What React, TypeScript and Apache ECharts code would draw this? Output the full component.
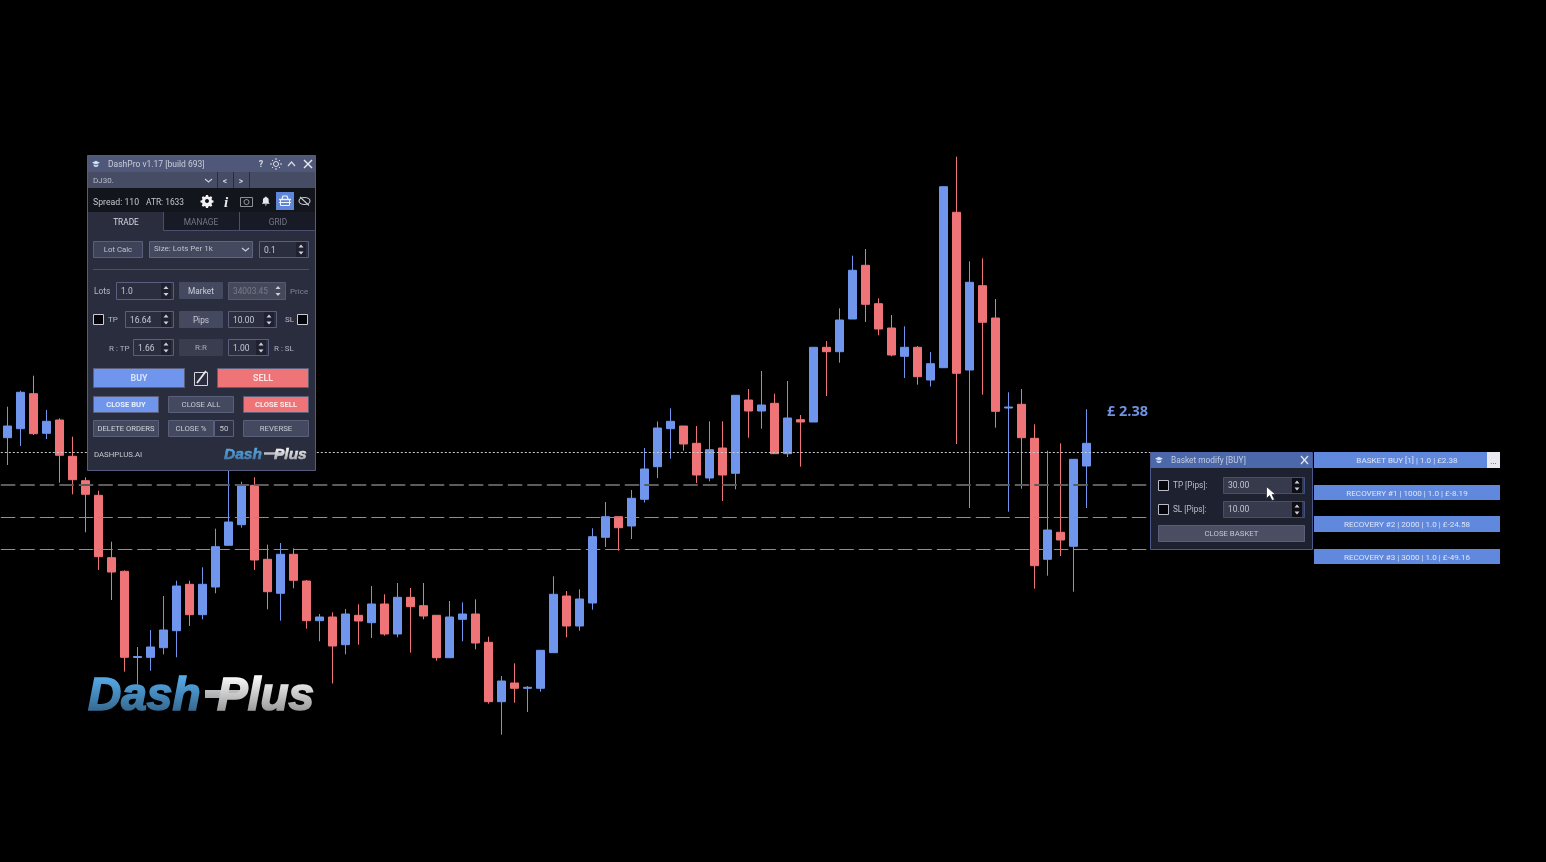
import React, { useEffect, useRef } from "react";
import * as echarts from "echarts";

const highs = [35359,35839,36289,35260,35011,34459,33241,32839,31309,30451,28150,28660,29680,30139,30139,30541,31699,33520,33109,33241,31219,31270,31111,30160,29140,29191,29290,29431,29980,29731,30070,29920,30070,29101,29530,29491,29581,28459,27280,27661,26980,28051,30271,29830,29881,31711,32500,32059,32860,34120,34915,35311,34780,34780,34921,34921,35701,35890,36430,35749,36130,35110,37141,37330,38311,39889,40090,38611,38110,37771,37180,37000,41959,42859,39721,39811,38590,35791,35890,34831,34039,34261,33781,35281];
const lows = [33610,34180,34510,34390,33079,32731,31591,30460,29560,27409,27010,27439,27931,27841,28780,28981,29761,31201,31729,30460,29281,28939,29911,28699,28321,27055,27931,28219,28420,28489,28441,27979,28981,27739,27829,28321,28081,26449,25519,26479,26200,26809,27979,28441,28639,29269,31150,31039,31390,32485,33220,33799,34039,33070,33121,32530,32881,34429,34699,33949,33850,33559,34900,35680,36679,37990,37900,37501,36871,36220,36019,35965,36529,34240,32320,35719,34729,32209,32899,29899,30289,30880,29809,32320];
const opens = [34429,34699,35749,34561,34960,33871,33139,32701,30829,30421,27835,27841,28129,28639,30031,29119,29950,31201,31819,33001,30781,29761,30931,30130,28939,29050,28219,29101,28879,29440,28540,29641,29389,29101,27829,28981,29140,28291,26509,27070,26911,26911,27979,29680,28780,29470,31441,32059,31780,32581,33559,34699,34780,34261,33220,34120,33361,35560,35230,35461,33949,34969,34900,37141,37009,37990,39601,38449,37720,36871,37141,36160,36529,41191,36460,38989,38020,35320,35431,34411,30781,31591,31171,33580];
const closes = [34780,35791,34549,34921,33901,33169,32731,30859,30400,27841,27865,28150,28660,29980,29119,30031,31159,31900,33001,30760,29809,30931,30151,28939,29050,28180,29140,28930,29440,28540,29641,29359,29080,27829,29050,29140,28270,26509,27130,26911,26941,28051,29731,28780,29590,31459,32059,31729,32611,33490,34720,34921,34240,33310,34069,33310,35701,35230,35410,33949,35020,34900,37141,37009,37960,39451,38431,37690,36910,37141,36259,36649,41959,36361,39091,37891,35221,35350,34429,30589,31660,31360,33781,34261];
const barNumbers = Array.from({ length: 93 }, (_, i) => String(i + 1));
const marketLevel = [33985];
const recoveryLevels = [33010, 32050, 31090];

const BLUE = "#6f96ec";
const RED = "#ee7478";
const SANS = "Roboto, 'Noto Sans', sans-serif";

echarts.graphic.registerShape("gearIcon", echarts.graphic.extendPath(
  "M10 0h4l.7 3 2.4 1 2.7-1.6 2.8 2.8-1.6 2.7 1 2.4 3 .7v4l-3 .7-1 2.4 1.6 2.7-2.8 2.8-2.7-1.6-2.4 1-.7 3h-4l-.7-3-2.4-1-2.7 1.6-2.8-2.8 1.6-2.7-1-2.4-3-.7v-4l3-.7 1-2.4-1.6-2.7 2.8-2.8 2.7 1.6 2.4-1zM12 8a4 4 0 1 0 .01 0z", {}));
echarts.graphic.registerShape("bellIcon", echarts.graphic.extendPath(
  "M12 0c1 0 2 1 2 2 4 1 6 4 6 8v6l3 4H1l3-4v-6c0-4 2-7 6-8 0-1 1-2 2-2zM9 22h6c0 2-1 3-3 3s-3-1-3-3z", {}));
echarts.graphic.registerShape("capIcon", echarts.graphic.extendPath(
  "M12 2l12 6-12 6L0 8zM5 13l7 3.5 7-3.5v5c-2 2-4.500 3-7 3s-5-1-7-3z", {}));

type El = Record<string, any>;
let order = 0;
const z = () => ({ z: 100, z2: order++ });

function box(x: number, y: number, w: number, h: number, fill: any, stroke?: string): El {
  return {
    type: "rect", ...z(), silent: true,
    shape: { x: stroke ? x + 0.5 : x, y: stroke ? y + 0.5 : y, width: stroke ? w - 1 : w, height: stroke ? h - 1 : h },
    style: stroke ? { fill, stroke, lineWidth: 1 } : { fill },
  };
}
function txt(text: string, x: number, y: number, size: number, fill: string, align = "left", weight: string | number = "normal", family = SANS): El {
  return {
    type: "text", ...z(), silent: true,
    style: { text, x, y, fill, fontSize: size, fontFamily: family, fontWeight: weight, align, verticalAlign: "middle" },
  };
}
function seg(x1: number, y1: number, x2: number, y2: number, stroke: string, lineWidth = 1): El {
  return { type: "line", ...z(), silent: true, shape: { x1, y1, x2, y2 }, style: { stroke, lineWidth } };
}
function poly(points: number[][], fill: string, closed = true, stroke?: string): El {
  return closed
    ? { type: "polygon", ...z(), silent: true, shape: { points }, style: { fill, stroke } }
    : { type: "polyline", ...z(), silent: true, shape: { points }, style: { fill: "none", stroke: stroke ?? fill, lineWidth: 1.2 } };
}
function shapeIcon(type: string, x: number, y: number, s: number, fill: string): El {
  return { type, ...z(), silent: true, x, y, scaleX: s, scaleY: s, style: { fill } };
}
function spin(x: number, top: number, h: number, bg: string): El[] {
  const c = top + h / 2;
  return [
    box(x, top + 1, 10, h - 2, bg),
    poly([[x + 5, c - 5], [x + 2.500, c - 2], [x + 7.500, c - 2]], "#cfd1da"),
    poly([[x + 5, c + 5], [x + 2.500, c + 2], [x + 7.500, c + 2]], "#cfd1da"),
  ];
}
function input(x: number, y: number, w: number, h: number, value: string, opts: { fill?: string; color?: string; textX?: number; spinBg?: string; border?: string; size?: number } = {}): El[] {
  return [
    box(x, y, w, h, opts.fill ?? "#2b2e3f", opts.border ?? "#5a5f80"),
    txt(value, x + (opts.textX ?? 5), y + h / 2, opts.size ?? 8.5, opts.color ?? "#c6c8d2"),
    ...spin(x + w - 13, y, h, opts.spinBg ?? "#1f2130"),
  ];
}
function btn(x: number, y: number, w: number, h: number, label: string, fill = "#45495f", color = "#c8cad4", border: string | undefined = "#5a5f7c", size = 7.8, weight: string | number = "normal"): El[] {
  return [box(x, y, w, h, fill, border), txt(label, x + w / 2, y + h / 2, size, color, "center", weight)];
}
// The logo's fade is an overlay in the colour behind it: svg text takes only flat fills.
function logo(x: number, y: number, size: number, plusFrom: number, plusTo: number, plusX: number, barH: number, behind: [number, number, number]): El[] {
  const family = "'Liberation Sans', Arial, sans-serif";
  const heavy = size * 0.035;
  const font = { fontSize: size, fontFamily: family, fontWeight: "bold", fontStyle: "italic", verticalAlign: "middle", lineWidth: heavy };
  const [r, g, b] = behind;
  const fade = new echarts.graphic.LinearGradient(0, 0, 0, 1, [
    { offset: 0, color: `rgba(${r},${g},${b},0)` },
    { offset: 1, color: `rgba(${r},${g},${b},0.42)` },
  ]);
  return [
    { type: "text", ...z(), silent: true, style: { text: "Dash", x, y, fill: "#58aeee", stroke: "#58aeee", ...font } },
    box(plusFrom, y - barH / 2, plusTo - plusFrom, barH, "#e4e5e8"),
    { type: "text", ...z(), silent: true, style: { text: "Plus", x: plusX, y, fill: "#ffffff", stroke: "#ffffff", ...font } },
    box(x - 2, y - size * 0.42, plusX + size * 2.2 - x, size * 0.84, fade),
  ];
}

function buildLeftPanel(): El[] {
  const e: El[] = [];
  e.push(box(87, 155, 229, 316, "#2a2d3d", "#565c80"));
  e.push(box(88, 156, 227, 16, "#505879"));
  e.push(shapeIcon("capIcon", 92, 160, 0.33, "#cfe2f7"));
  e.push(txt("DashPro v1.17 [build 693]", 108, 164, 8.5, "#c9ccd8"));
  e.push(txt("?", 261, 164, 9, "#d8dae2", "center", "bold"));
  e.push({ type: "ring", ...z(), silent: true, shape: { cx: 276, cy: 164, r: 3, r0: 2 }, style: { fill: "#d8dae2" } });
  [[276, 158, 276, 160], [276, 168, 276, 170], [270, 164, 272, 164], [280, 164, 282, 164], [272, 160, 273, 161], [279, 167, 280, 168], [272, 168, 273, 167], [279, 161, 280, 160]]
    .forEach((p) => e.push(seg(p[0], p[1], p[2], p[3], "#d8dae2")));
  e.push(poly([[288, 166], [291.500, 162], [295, 166]], "#d8dae2", false));
  e.push(seg(304, 160, 312, 168, "#e6e7ec", 1.4), seg(312, 160, 304, 168, "#e6e7ec", 1.4));
  e.push(box(88, 172, 227, 16, "#474c65"));
  e.push(txt("DJ30.", 93, 180, 8, "#b9bcc9"));
  e.push(poly([[205, 179], [208.500, 182], [212, 179]], "#c9ccd8", false));
  e.push(seg(217.500, 172, 217.500, 188, "#2a2d3d"), seg(233.500, 172, 233.500, 188, "#2a2d3d"), seg(249.500, 172, 249.500, 188, "#2a2d3d"));
  e.push(txt("<", 225, 180.500, 8.500, "#d0d2dc", "center", "bold"), txt(">", 241, 180.500, 8.500, "#d0d2dc", "center", "bold"));
  e.push(box(88, 188, 227, 24, "#13151c"));
  e.push(txt("Spread: 110", 93, 201.500, 8.700, "#c4c6d0"), txt("ATR: 1633", 146, 201.500, 8.400, "#c4c6d0"));
  e.push(shapeIcon("gearIcon", 201, 195, 0.5, "#f2f2f4"));
  e.push(txt("i", 226, 201.500, 15, "#e9e9ee", "center", "bold", "'Liberation Serif', serif"));
  e[e.length - 1].style.fontStyle = "italic";
  e.push(box(240, 197, 13, 10, "none", "#8d8f99"), { type: "ring", ...z(), silent: true, shape: { cx: 246.500, cy: 202, r: 3, r0: 2 }, style: { fill: "#8d8f99" } });
  e.push(shapeIcon("bellIcon", 261.500, 196.500, 0.36, "#e8e8ec"));
  e.push(box(276, 192, 18, 18, "#5f86d8"));
  e.push(box(280, 199, 10, 7, "none", "#f0f2f8"), seg(279, 199.500, 291, 199.500, "#f0f2f8", 1.4), seg(279, 202.500, 291, 202.500, "#f0f2f8"));
  e.push(poly([[282, 199], [283, 196], [287, 196], [288, 199]], "none", false, "#f0f2f8"));
  e.push({ type: "ellipse", ...z(), silent: true, shape: { cx: 304.500, cy: 201, rx: 5.500, ry: 3.500 }, style: { fill: "none", stroke: "#c7c8cf", lineWidth: 1.100 } }, seg(300, 197, 309, 205.500, "#c7c8cf", 1.100));
  e.push(box(164, 212, 151, 19, "#181a25"));
  e.push(seg(163.500, 212, 163.500, 231, "#4a4f6d"), seg(239.500, 212, 239.500, 231, "#4a4f6d"), seg(164, 230.500, 315, 230.500, "#4a4f6d"));
  e.push(txt("TRADE", 126, 222, 8.300, "#d6d8e0", "center"), txt("MANAGE", 201, 222, 8.300, "#747888", "center"), txt("GRID", 278, 222, 8.300, "#747888", "center"));
  e.push(...btn(93, 241, 50, 17, "Lot Calc", "#3f435a", "#bfc1cc"));
  e.push(box(149, 241, 104, 17, "#45495f", "#5f6484"), txt("Size: Lots Per 1k", 154, 248.500, 8, "#bfc1cc"), poly([[242, 248], [245.500, 251], [249, 248]], "#c9ccd8", false));
  e.push(...input(259, 241, 50, 17, "0.1", { textX: 5 }));
  e.push(seg(93, 269.500, 309, 269.500, "#4b4f68"));
  e.push(txt("Lots", 94, 291, 8.300, "#b8bac6"));
  e.push(...input(116, 282, 58, 18, "1.0"));
  e.push(...btn(179, 282, 44, 17, "Market", "#45495f", "#cdcfd9", "#45495f", 8.300));
  e.push(...input(228, 282, 58, 18, "34003.45", { fill: "#45485b", color: "#777b8b", spinBg: "#45485b", border: "#55596f", size: 8.300 }));
  e.push(txt("Price", 290, 291, 8, "#7f8291"));
  e.push(box(93, 314, 11, 11, "#05050a", "#c9cbd4"), txt("TP", 108, 319.500, 8, "#b8bac6"));
  e.push(...input(125, 311, 49, 17, "16.64", { textX: 5 }));
  e.push(...btn(179, 311, 44, 17, "Pips", "#45495f", "#c4c6d0", "#45495f", 8.300));
  e.push(...input(228, 311, 49, 17, "10.00", { textX: 5 }));
  e.push(txt("SL", 285, 319.500, 8, "#b8bac6"), box(297, 314, 11, 11, "#05050a", "#c9cbd4"));
  e.push(txt("R : TP", 109, 348, 8, "#b0b2be"));
  e.push(...input(133, 339, 41, 17, "1.66"));
  e.push(...btn(179, 339, 44, 17, "R:R", "#3a3d50", "#a9abb8", "#3a3d50", 8));
  e.push(...input(228, 339, 41, 17, "1.00"));
  e.push(txt("R : SL", 274, 348, 8, "#b0b2be"));
  e.push(...btn(93, 368, 92, 20, "BUY", BLUE, "#d9e3fa", undefined, 8.800, "bold"));
  e.push(...btn(217, 368, 92, 20, "SELL", RED, "#fbe4e4", undefined, 8.800, "bold"));
  e.push(box(194, 372, 14, 14, "none", "#d4d5db"), seg(197, 383, 206, 371, "#e6e7ec", 1.800));
  e.push(...btn(93, 396, 66, 17, "CLOSE BUY", BLUE, "#eaf0fd", undefined, 7.600, "bold"));
  e.push(...btn(168, 396, 66, 17, "CLOSE ALL"));
  e.push(...btn(243, 396, 66, 17, "CLOSE SELL", RED, "#fdeaea", undefined, 7.600, "bold"));
  e.push(...btn(93, 420, 66, 17, "DELETE ORDERS", "#45495f", "#d2d4dc", "#5a5f7c", 7.600));
  e.push(...btn(168, 420, 46, 17, "CLOSE %"));
  e.push(...btn(214, 420, 20, 17, "50", "#2f3244", "#c8cad4"));
  e.push(...btn(243, 420, 66, 17, "REVERSE"));
  e.push(txt("DASHPLUS.AI", 94, 454, 7.800, "#c6c8d2"));
  e.push(...logo(224, 453.500, 15.500, 264, 283, 274, 2.500, [42, 45, 61]));
  return e;
}

function buildRightPanel(): El[] {
  const e: El[] = [];
  e.push(box(1150, 452, 163, 98, "#1e2130", "#4a5a8c"));
  e.push(box(1151, 452, 161, 16, "#4c68aa"));
  e.push(shapeIcon("capIcon", 1155, 456, 0.33, "#cfe2f7"));
  e.push(txt("Basket modify [BUY]", 1171, 460, 8.300, "#c3cbe0"));
  e.push(seg(1301, 456, 1308, 464, "#e2e5ee", 1.300), seg(1308, 456, 1301, 464, "#e2e5ee", 1.300));
  e.push(box(1158, 480, 11, 11, "#06060a", "#b9bcc6"), txt("TP [Pips]:", 1173, 485, 8.200, "#bcbecb"));
  e.push(box(1223, 477, 82, 17, "#373a4c", "#3d4f85"), txt("30.00", 1228, 485, 8.500, "#c4c6d0"), ...spin(1292, 477, 17, "#0e0f16"));
  e.push(box(1158, 504, 11, 11, "#06060a", "#b9bcc6"), txt("SL [Pips]:", 1173, 509, 8.200, "#bcbecb"));
  e.push(box(1223, 501, 82, 17, "#373a4c", "#3d4f85"), txt("10.00", 1228, 509, 8.500, "#c4c6d0"), ...spin(1292, 501, 17, "#0e0f16"));
  e.push(...btn(1158, 525, 147, 17, "CLOSE BASKET", "#4b4e62", "#c4c6d0", "#5a5e7a", 7.800));
  e.push({ type: "polygon", ...z(), silent: true, shape: { points: [[1266.500, 486.500], [1266.500, 498.500], [1269.500, 495.500], [1272, 500.500], [1274.500, 499.500], [1272, 494.500], [1275.500, 494.500]] }, style: { fill: "#ffffff", stroke: "#20222c", lineWidth: 0.700 } });
  const rows: [string, number, number][] = [
    ["RECOVERY #1 | 1000 | 1.0 | £-8.19", 485, 15],
    ["RECOVERY #2 | 2000 | 1.0 | £-24.58", 516, 16],
    ["RECOVERY #3 | 3000 | 1.0 | £-49.16", 549, 15],
  ];
  e.push(box(1314, 452, 173, 16, "#6089de"), txt("BASKET BUY [1] | 1.0 | £2.38", 1407, 460, 8.100, "#dde4f6", "center"));
  e.push(box(1487, 452, 13, 16, "#e9e9ef"), txt("...", 1493.500, 461, 8, "#444", "center"));
  rows.forEach(([label, y, h]) => {
    e.push(box(1314, y, 186, h, "#6089de"), txt(label, 1407, y + h / 2, 8.100, "#dde4f6", "center"));
  });
  e.push(txt("£ 2.38", 1107, 410.500, 14.500, "#6f92e2", "left", "bold", "'Open Sans', Roboto, sans-serif"));
  return e;
}

export default function App() {
  const ref = useRef<HTMLDivElement>(null);
  useEffect(() => {
    document.body.style.margin = "0";
    document.body.style.background = "#000";
    const chart = echarts.init(ref.current!, undefined, { renderer: "svg" });
    order = 0;
    const candles = opens.map((o, i) => [o, closes[i], lows[i], highs[i]]);
    chart.setOption({
      animation: false,
      backgroundColor: "#000000",
      grid: { left: 0.8, top: 0, width: 1209, height: 862 },
      xAxis: { type: "category", data: barNumbers, show: false },
      yAxis: { type: "value", min: 21700, max: 47560, show: false },
      series: [{
        type: "candlestick",
        data: candles,
        barWidth: 8,
        itemStyle: { color: BLUE, color0: RED, borderColor: BLUE, borderColor0: RED, borderWidth: 1 },
        markLine: {
          silent: true,
          symbol: "none",
          label: { show: false },
          animation: false,
          data: [
            { yAxis: marketLevel[0], lineStyle: { color: "#c9cbd0", width: 1, type: [2, 2] } },
            { yAxis: recoveryLevels[0], lineStyle: { color: "#5c5c5c", width: 2, type: [14.5, 5] } },
            { yAxis: recoveryLevels[1], lineStyle: { color: "#8f8f8f", width: 1, type: [14.5, 5] } },
            { yAxis: recoveryLevels[2], lineStyle: { color: "#8f8f8f", width: 1, type: [14.5, 5] } },
          ],
        },
      }],
      graphic: {
        elements: [
          ...logo(88, 694, 46, 205, 240, 217, 8, [0, 0, 0]),
          ...buildLeftPanel(),
          ...buildRightPanel(),
        ],
      },
    });
    return () => chart.dispose();
  }, []);
  return <div ref={ref} style={{ position: "fixed", left: 0, top: 0, width: 1546, height: 862, filter: "blur(0.4px)" }} />;
}
